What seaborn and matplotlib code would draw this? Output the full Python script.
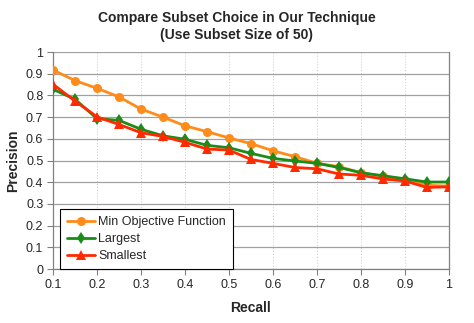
import numpy as np
import pandas as pd
import seaborn as sns
import matplotlib
matplotlib.use("Agg")
import matplotlib.pyplot as plt
from matplotlib.ticker import FuncFormatter

recall = [0.1, 0.15, 0.2, 0.25, 0.3, 0.35, 0.4, 0.45, 0.5, 0.55,
          0.6, 0.65, 0.7, 0.75, 0.8, 0.85, 0.9, 0.95, 1.0]
min_obj = [0.917, 0.868, 0.833, 0.793, 0.737, 0.700, 0.660, 0.633, 0.604, 0.578,
           0.545, 0.518, 0.487, 0.472, 0.444, 0.427, 0.412, 0.386, 0.382]
largest = [0.828, 0.782, 0.693, 0.685, 0.644, 0.614, 0.598, 0.570, 0.559, 0.533,
           0.510, 0.498, 0.487, 0.468, 0.444, 0.430, 0.416, 0.401, 0.401]
smallest = [0.851, 0.774, 0.701, 0.666, 0.628, 0.611, 0.584, 0.553, 0.548, 0.505,
            0.487, 0.468, 0.462, 0.438, 0.432, 0.415, 0.406, 0.376, 0.379]
series_names = ["Min Objective Function", "Largest", "Smallest"]

df = pd.DataFrame({
    "Recall": recall * 3,
    "Precision": min_obj + largest + smallest,
    "Series": [series_names[0]] * len(recall) + [series_names[1]] * len(recall) + [series_names[2]] * len(recall),
})

sns.set_theme(style="white")
plt.rcParams['font.family'] = ['Liberation Sans', 'DejaVu Sans']

fig = plt.figure(figsize=(4.74, 3.23), dpi=100)
ax = fig.add_axes([0.112, 0.167, 0.835, 0.672])

palette = {series_names[0]: "#FF8C1A", series_names[1]: "#1A8C1A", series_names[2]: "#FF2A00"}
markers = {series_names[0]: "o", series_names[1]: "d", series_names[2]: "^"}
sns.lineplot(data=df, x="Recall", y="Precision", hue="Series", style="Series",
             palette=palette, markers=markers, dashes=False, linewidth=2,
             markersize=6.5, markeredgewidth=0, ax=ax, zorder=3)

ax.set_xlim(0.1, 1.0)
ax.set_ylim(0, 1.0)
ax.set_xticks(np.arange(0.1, 1.01, 0.1))
ax.set_yticks(np.arange(0, 1.01, 0.1))
fmt = FuncFormatter(lambda v, p: ("%g" % round(v, 2)))
ax.xaxis.set_major_formatter(fmt)
ax.yaxis.set_major_formatter(fmt)
ax.tick_params(axis="both", labelsize=9, length=4, width=0.8, direction="out",
               color="#808080", pad=3, bottom=True, left=True)
ax.yaxis.grid(True, color="#A0A0A0", linewidth=0.9, linestyle="-")
ax.xaxis.grid(True, color="#C8C8C8", linewidth=0.7, linestyle=(0, (1, 2)))
ax.set_axisbelow(True)
for s in ["left", "bottom", "right"]:
    ax.spines[s].set_color("#808080")
    ax.spines[s].set_linewidth(0.9)
ax.spines["top"].set_visible(False)

ax.set_xlabel("Recall", fontsize=10, fontweight="bold", labelpad=7)
ax.set_ylabel("Precision", fontsize=10, fontweight="bold", labelpad=4)
fig.text(0.5, 0.918, "Compare Subset Choice in Our Technique\n(Use Subset Size of 50)",
         ha="center", va="center", fontsize=10, fontweight="bold", linespacing=1.25)

leg = ax.legend(loc="lower left", bbox_to_anchor=(0.018, 0.0), fontsize=9,
                frameon=True, fancybox=False, borderpad=0.55, labelspacing=0.4,
                handlelength=2.2, handletextpad=0.3, borderaxespad=0.0)
leg.get_frame().set_edgecolor("#000000")
leg.get_frame().set_linewidth(0.8)
leg.get_frame().set_alpha(1)
leg._legend_box.align = "left"

fig.savefig("out.png", dpi=100)
